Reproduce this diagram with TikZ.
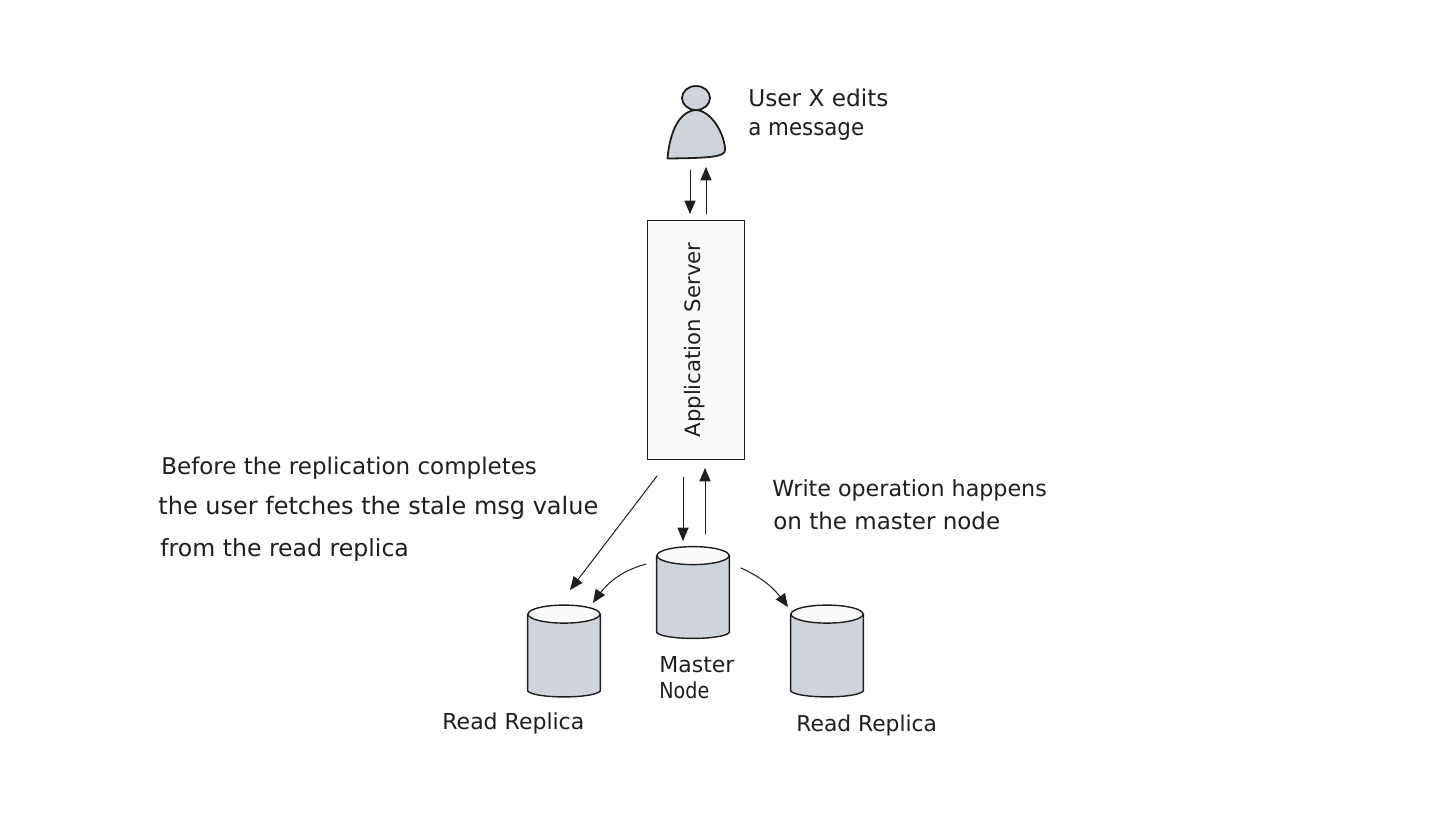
\documentclass[tikz,border=0pt]{standalone}
\usepackage{fontspec}
\setmainfont{DejaVu Sans}
\usetikzlibrary{arrows,calc,shapes.geometric}
\definecolor{ccddaa}{rgb}{0.807843137255,0.83137254902,0.854901960784}
\definecolor{ffggaa}{rgb}{0.972549019608,0.976470588235,0.980392156863}
\definecolor{ffffaa}{rgb}{0.98,0.98,0.98}
\definecolor{uuuuuu}{rgb}{0.117647058824,0.117647058824,0.117647058824}
\tikzset{
  msg/.style={anchor=base west,inner sep=0pt,color=uuuuuu,font=\fontsize{#1}{12}\selectfont},
  msg/.default=11.5,
  dbase/.style={inner sep=0pt,minimum width=36pt,minimum height=45.5pt},
  link/.style={->,draw=uuuuuu,line width=0.5pt}
}
% sides and top of a database, on the named node
\newcommand{\dbdraw}[1]{
\draw[draw=uuuuuu,fill=ccddaa,line width=0.7pt] ($(#1.north west)+(0,9)$) -- ($(#1.south west)+(0,-6)$) .. controls +(6,8) and +(-6,8) .. ($(#1.south east)+(0,-6)$) -- ($(#1.north east)+(0,9)$);
\draw[draw=uuuuuu,fill=ffffaa,line width=0.7pt] ($(#1.north)+(0,9)$) ellipse (36 and 9);
}
\begin{document}
\begin{tikzpicture}[line cap=round,line join=round,>=triangle 45,x=0.5pt,y=-0.5pt]
\useasboundingbox (0,0) rectangle (1456,829);
\fill[white] (0,0) rectangle (1456,829);
% user
\draw[draw=uuuuuu,fill=ccddaa,line width=0.9pt] (667.5,158.5) .. controls (670,130) and (680,111) .. (696,110) .. controls (712,111) and (725,135) .. (725,150) .. controls (725,157) and (710,158) .. (667.5,158.5);
\draw (696,98) node[ellipse,draw=uuuuuu,fill=ccddaa,line width=0.9pt,minimum width=14pt,minimum height=12pt,inner sep=0pt] (head) {};
\draw (748,107) node[msg=11.6] (usera) {User X edits};
\draw (748,135) node[msg=11.6,xscale=0.92,transform shape] (userb) {a message};
% server
\draw (695.5,339.5) node[draw=uuuuuu,fill=ffggaa,line width=0.5pt,minimum width=48.5pt,minimum height=119.5pt,inner sep=0pt] (server) {};
\draw (695,340) node[rotate=90,color=uuuuuu,inner sep=0pt,font=\fontsize{10.6}{12}\selectfont] (serverlabel) {Application Server};
% databases
\draw (693,592.5) node[dbase] (master) {};
\draw (564,651) node[dbase] (readl) {};
\draw (827,651) node[dbase] (readr) {};
\dbdraw{master}
\dbdraw{readl}
\dbdraw{readr}
\draw (659,672) node[msg=11] (mastera) {Master};
\draw (659,698) node[msg=11,xscale=0.87,transform shape] (masterb) {Node};
\draw (442,729) node[msg=11] (readla) {Read Replica};
\draw (796,731) node[msg=10.9] (readra) {Read Replica};
% texts
\draw (161,474) node[msg=11.5] (beforea) {Before the replication completes};
\draw (158,514) node[msg=12] (beforeb) {the user fetches the stale msg value};
\draw (160,556) node[msg=11.8] (beforec) {from the read replica};
\draw (772,496) node[msg=11.1] (writea) {Write operation happens};
\draw (773,529) node[msg=11.5] (writeb) {on the master node};
% arrow ends
\coordinate (ua) at (690,170);
\coordinate (ub) at (690,214);
\coordinate (uc) at (706,214);
\coordinate (ud) at (706,167);
\coordinate (sa) at (683,477);
\coordinate (sb) at (683,541);
\coordinate (sc) at (705,534);
\coordinate (sd) at (705,468);
\coordinate (se) at (657,476);
\coordinate (sf) at (570,590);
\coordinate (ma) at (646,564);
\coordinate (mb) at (593,603);
\coordinate (mc) at (741,568);
\coordinate (md) at (788,607);
\draw[link] (ua) -- (ub);
\draw[link] (uc) -- (ud);
\draw[link] (sa) -- (sb);
\draw[link] (sc) -- (sd);
\draw[link] (se) -- (sf);
\draw[link] (ma) to[bend right=20] (mb);
\draw[link] (mc) to[bend left=15] (md);
\end{tikzpicture}
\end{document}
